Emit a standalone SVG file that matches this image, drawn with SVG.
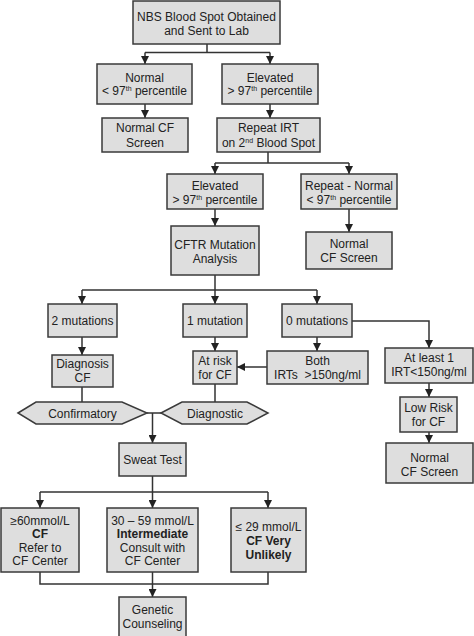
<svg xmlns="http://www.w3.org/2000/svg" width="474" height="636" viewBox="0 0 474 636">
<style>
.box{fill:#dedede;stroke:#3a3a3a;stroke-width:1.5}
.t{font-family:"Liberation Sans",Arial,sans-serif;font-size:12px;fill:#222;text-anchor:middle}
.b{font-weight:bold}
.sup{font-size:7px}
.c{fill:none;stroke:#333;stroke-width:1.5}
</style>
<defs>
<marker id="ah" markerUnits="userSpaceOnUse" markerWidth="8" markerHeight="8" refX="8" refY="4" orient="auto">
<path d="M0,0 L8,4 L0,8 z" fill="#222"/>
</marker>
</defs>
<rect width="474" height="636" fill="#fff"/>
<g id="connectors">
<path class="c" d="M207,44 V52.5 H145 M207,52.5 H270"/>
<path class="c" d="M145,52.5 V64" marker-end="url(#ah)"/>
<path class="c" d="M270,52.5 V64" marker-end="url(#ah)"/>
<path class="c" d="M145,104 V118" marker-end="url(#ah)"/>
<path class="c" d="M270,104 V118" marker-end="url(#ah)"/>
<path class="c" d="M268,152 V163 M215,163 H349"/>
<path class="c" d="M215,163 V174" marker-end="url(#ah)"/>
<path class="c" d="M349,163 V174" marker-end="url(#ah)"/>
<path class="c" d="M215,209 V226" marker-end="url(#ah)"/>
<path class="c" d="M349,209 V232" marker-end="url(#ah)"/>
<path class="c" d="M215,275 V290 M82,290 H317"/>
<path class="c" d="M82,290 V304" marker-end="url(#ah)"/>
<path class="c" d="M215,290 V304" marker-end="url(#ah)"/>
<path class="c" d="M317,290 V304" marker-end="url(#ah)"/>
<path class="c" d="M352,321 H429 V348" marker-end="url(#ah)"/>
<path class="c" d="M82,337 V355" marker-end="url(#ah)"/>
<path class="c" d="M215,337 V351" marker-end="url(#ah)"/>
<path class="c" d="M317,337 V351" marker-end="url(#ah)"/>
<path class="c" d="M267,367 H237" marker-end="url(#ah)"/>
<path class="c" d="M429,383 V397" marker-end="url(#ah)"/>
<path class="c" d="M429,432 V443" marker-end="url(#ah)"/>
<path class="c" d="M82,387 V402 M215,384 V402 M147,413 H161"/>
<path class="c" d="M152.5,413 V443" marker-end="url(#ah)"/>
<path class="c" d="M152.5,476 V492 M40,492 H268"/>
<path class="c" d="M40,492 V508" marker-end="url(#ah)"/>
<path class="c" d="M152.5,492 V508" marker-end="url(#ah)"/>
<path class="c" d="M268,492 V508" marker-end="url(#ah)"/>
<path class="c" d="M40,572 V584 H268 V572"/>
<path class="c" d="M152.5,572 V597" marker-end="url(#ah)"/>
</g>
<g id="nbs"><rect class="box" x="133" y="1" width="147" height="43"/>
<text class="t" x="206.5" y="21">NBS Blood Spot Obtained</text><text class="t" x="206.5" y="35">and Sent to Lab</text></g>
<g id="normal1"><rect class="box" x="97" y="64" width="95" height="40"/>
<text class="t" x="144.5" y="81.5">Normal</text><text class="t" x="144.5" y="95">&lt; 97<tspan class="sup" dy="-4">th</tspan><tspan dy="4"> percentile</tspan></text></g>
<g id="elevated1"><rect class="box" x="222" y="64" width="96" height="40"/>
<text class="t" x="270" y="81.5">Elevated</text><text class="t" x="270" y="95">&gt; 97<tspan class="sup" dy="-4">th</tspan><tspan dy="4"> percentile</tspan></text></g>
<g id="normalcf1"><rect class="box" x="102" y="118" width="86" height="34"/>
<text class="t" x="145" y="132">Normal CF</text><text class="t" x="145" y="146.5">Screen</text></g>
<g id="repeatirt"><rect class="box" x="217" y="118" width="103" height="34"/>
<text class="t" x="268.5" y="132">Repeat IRT</text><text class="t" x="268.5" y="146.5">on 2<tspan class="sup" dy="-4">nd</tspan><tspan dy="4"> Blood Spot</tspan></text></g>
<g id="elevated2"><rect class="box" x="167" y="174" width="96" height="35"/>
<text class="t" x="215" y="189.5">Elevated</text><text class="t" x="215" y="203.5">&gt; 97<tspan class="sup" dy="-4">th</tspan><tspan dy="4"> percentile</tspan></text></g>
<g id="repeatnormal"><rect class="box" x="301" y="174" width="96" height="35"/>
<text class="t" x="349" y="189.5">Repeat - Normal</text><text class="t" x="349" y="203.5">&lt; 97<tspan class="sup" dy="-4">th</tspan><tspan dy="4"> percentile</tspan></text></g>
<g id="cftr"><rect class="box" x="171" y="226" width="88" height="49"/>
<text class="t" x="215" y="249">CFTR Mutation</text><text class="t" x="215" y="263">Analysis</text></g>
<g id="normalcf2"><rect class="box" x="306" y="232" width="86" height="37"/>
<text class="t" x="349" y="248">Normal</text><text class="t" x="349" y="262">CF Screen</text></g>
<g id="mut2"><rect class="box" x="48" y="304" width="69" height="33"/>
<text class="t" x="82.5" y="325">2 mutations</text></g>
<g id="mut1"><rect class="box" x="183" y="304" width="64" height="33"/>
<text class="t" x="215" y="325">1 mutation</text></g>
<g id="mut0"><rect class="box" x="282" y="304" width="70" height="33"/>
<text class="t" x="317" y="325">0 mutations</text></g>
<g id="diagnosis"><rect class="box" x="52" y="355" width="61" height="32"/>
<text class="t" x="82.5" y="368">Diagnosis</text><text class="t" x="82.5" y="382">CF</text></g>
<g id="atrisk"><rect class="box" x="193" y="351" width="44" height="33"/>
<text class="t" x="215" y="364.5">At risk</text><text class="t" x="215" y="378.5">for CF</text></g>
<g id="both"><rect class="box" x="267" y="351" width="101" height="33"/>
<text class="t" x="317.5" y="364.5">Both</text><text class="t" x="317.5" y="378.5" xml:space="preserve">IRTs  &gt;150ng/ml</text></g>
<g id="atleast1"><rect class="box" x="385" y="348" width="88" height="35"/>
<text class="t" x="429" y="362">At least 1</text><text class="t" x="429" y="376">IRT&lt;150ng/ml</text></g>
<g id="lowrisk"><rect class="box" x="400" y="397" width="57" height="35"/>
<text class="t" x="428.5" y="412">Low Risk</text><text class="t" x="428.5" y="426">for CF</text></g>
<g id="normalcf3"><rect class="box" x="386" y="443" width="87" height="40"/>
<text class="t" x="429.5" y="461.5">Normal</text><text class="t" x="429.5" y="475.5">CF Screen</text></g>
<g id="confirmatory"><polygon class="box" points="18,413 36,402 122,402 147,413 122,424 36,424"/>
<text class="t" x="82.5" y="417.5">Confirmatory</text></g>
<g id="diagnostic"><polygon class="box" points="161,413 182,402 247,402 268,413 247,424 182,424"/>
<text class="t" x="215" y="417.5">Diagnostic</text></g>
<g id="sweat"><rect class="box" x="119" y="443" width="67" height="33"/>
<text class="t" x="152.5" y="464">Sweat Test</text></g>
<g id="cf60"><rect class="box" x="1" y="508" width="78" height="64"/>
<text class="t" x="40" y="524.5">≥60mmol/L</text><text class="t b" x="40" y="538">CF</text><text class="t" x="40" y="551.5">Refer to</text><text class="t" x="40" y="565">CF Center</text></g>
<g id="intermediate"><rect class="box" x="107" y="508" width="91" height="64"/>
<text class="t" x="152.5" y="524.5">30 – 59 mmol/L</text><text class="t b" x="152.5" y="538">Intermediate</text><text class="t" x="152.5" y="551.5">Consult with</text><text class="t" x="152.5" y="565">CF Center</text></g>
<g id="unlikely"><rect class="box" x="231" y="508" width="75" height="64"/>
<text class="t" x="268.5" y="531">≤ 29 mmol/L</text><text class="t b" x="268.5" y="545">CF Very</text><text class="t b" x="268.5" y="558.5">Unlikely</text></g>
<g id="genetic"><rect class="box" x="119" y="597" width="67" height="45"/>
<text class="t" x="152.5" y="614">Genetic</text><text class="t" x="152.5" y="628">Counseling</text></g>
</svg>
